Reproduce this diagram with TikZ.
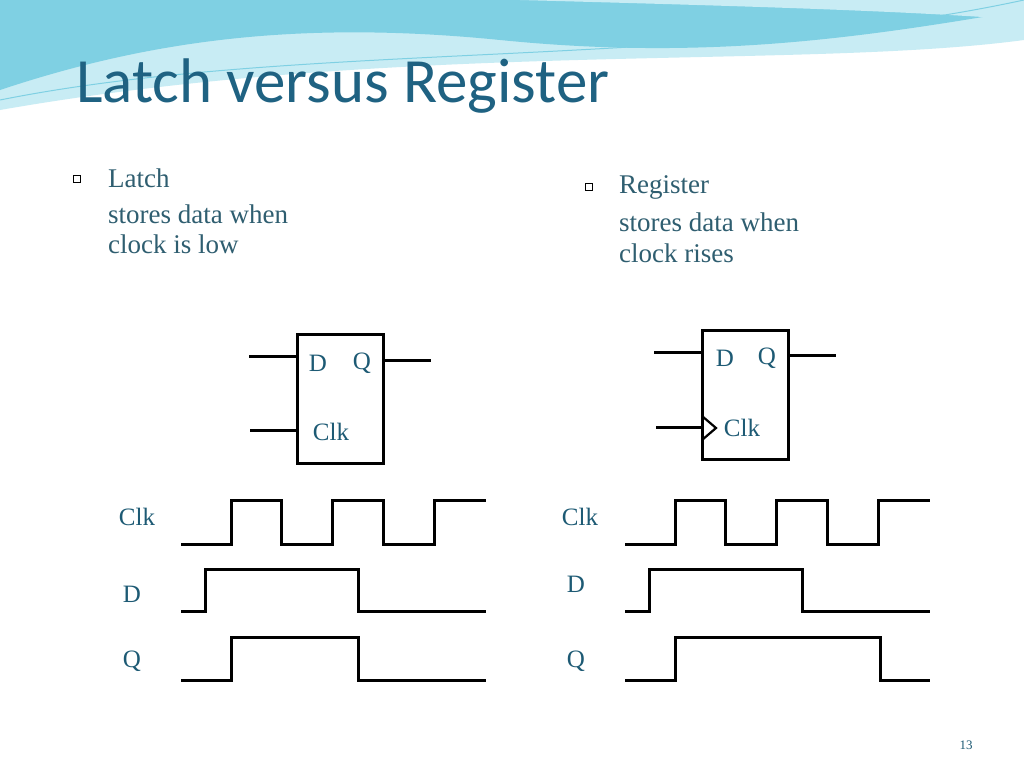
\documentclass[tikz,border=0pt]{standalone}
\usepackage{fontspec}
\setmainfont{Liberation Serif}
\newfontfamily\titlefont{Carlito}
\begin{document}
\begin{tikzpicture}[x=1pt,y=-1pt,
 wave/.style={line width=3pt,line join=miter},
 box/.style={line width=3pt},
 lbl/.style={text=labc,font=\fontsize{25}{28}\selectfont,inner sep=0pt},
 body/.style={text=bodyc,font=\fontsize{27}{30}\selectfont,anchor=west,inner sep=0pt},
 bul/.style={draw=black,line width=0.6pt,minimum size=7pt,inner sep=0pt}]
\definecolor{titlec}{HTML}{1F6282}
\definecolor{bodyc}{HTML}{2F5E70}
\definecolor{labc}{HTML}{1D5A74}
\definecolor{sky}{HTML}{7FD0E3}
\definecolor{skyl}{HTML}{C8ECF4}
\useasboundingbox (0,0) rectangle (1024,768);
\fill[white] (0,0) rectangle (1024,768);
% background swooshes
\fill[skyl] (0,0) -- (1024,0) -- (1024,40) .. controls (800,70) and (400,40) .. (0,110) -- cycle;
\fill[sky] (0,0) -- (1024,0) -- (1024,10) .. controls (850,40) and (700,60) .. (500,40) .. controls (300,20) and (150,40) .. (0,90) -- cycle;
\fill[skyl] (520,0) -- (1024,0) -- (1024,20) .. controls (900,10) and (700,5) .. (520,0) -- cycle;
\draw[sky,line width=1pt] (0,100) .. controls (300,40) and (700,70) .. (1024,0);
\node[anchor=west,text=titlec,font=\titlefont\fontsize{63}{68}\selectfont,inner sep=0pt] (title) at (76,86) {Latch versus Register};
% bullets
\node[bul] (b1) at (77,179) {};
\node[body] (t1) at (108,178) {Latch};
\node[body] (t2) at (108,214) {stores data when};
\node[body] (t3) at (108,244) {clock is low};
\node[bul] (b2) at (589,187) {};
\node[body] (t4) at (619,187) {Register};
\node[body] (t5) at (619,222) {stores data when};
\node[body] (t6) at (619,253) {clock rises};
% latch box
\draw[box] (297,334) rectangle (383,463);
\coordinate (lDi) at (249,356); \coordinate (lD) at (297,356);
\coordinate (lQo) at (431,360); \coordinate (lQ) at (383,360);
\coordinate (lCi) at (250,430); \coordinate (lC) at (297,430);
\draw[box] (lDi) -- (lD); \draw[box] (lQ) -- (lQo); \draw[box] (lCi) -- (lC);
\node[lbl] (lDl) at (318,363) {D};
\node[lbl] (lQl) at (362,363) {Q};
\node[lbl] (lCl) at (331,432) {Clk};
% register box
\draw[box] (702,330) rectangle (788,459);
\coordinate (rDi) at (654,352); \coordinate (rD) at (702,352);
\coordinate (rQo) at (836,355); \coordinate (rQ) at (788,355);
\coordinate (rCi) at (656,427); \coordinate (rC) at (702,427);
\draw[box] (rDi) -- (rD); \draw[box] (rQ) -- (rQo); \draw[box] (rCi) -- (rC);
\draw[line width=2.2pt] (702,416) -- (716,428) -- (702,440);
\node[lbl] (rDl) at (725,358) {D};
\node[lbl] (rQl) at (767,358) {Q};
\node[lbl] (rCl) at (742,428) {Clk};
% left waves
\node[lbl] (lw1) at (137,517) {Clk};
\node[lbl] (lw2) at (132,594) {D};
\node[lbl] (lw3) at (132,661) {Q};
\draw[wave] (181,544) -- (231,544) -- (231,500) -- (281,500) -- (281,544) -- (332,544) -- (332,500) -- (383,500) -- (383,544) -- (434,544) -- (434,500) -- (486,500);
\draw[wave] (181,611) -- (205,611) -- (205,569) -- (358,569) -- (358,611) -- (486,611);
\draw[wave] (181,680) -- (231,680) -- (231,637) -- (358,637) -- (358,680) -- (486,680);
% right waves
\node[lbl] (rw1) at (580,517) {Clk};
\node[lbl] (rw2) at (576,584) {D};
\node[lbl] (rw3) at (576,661) {Q};
\draw[wave] (625,544) -- (675,544) -- (675,500) -- (725,500) -- (725,544) -- (776,544) -- (776,500) -- (827,500) -- (827,544) -- (878,544) -- (878,500) -- (930,500);
\draw[wave] (625,611) -- (649,611) -- (649,569) -- (802,569) -- (802,611) -- (930,611);
\draw[wave] (625,680) -- (675,680) -- (675,637) -- (880,637) -- (880,680) -- (930,680);
\node[text=labc,font=\fontsize{13}{15}\selectfont] (pg) at (966,745) {13};
\end{tikzpicture}
\end{document}
